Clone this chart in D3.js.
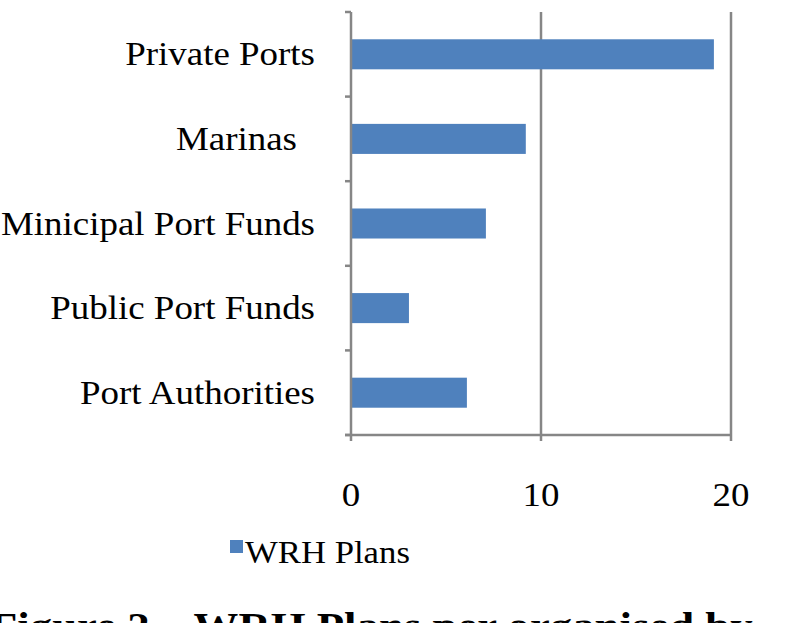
<!DOCTYPE html><html><head><meta charset="utf-8"><script src="https://d3js.org/d3.v7.min.js"></script>
<style>body{margin:0;background:#fff}</style></head><body><svg id="c" width="791" height="623"></svg>
<script>
const categories=["Private Ports","Marinas","Minicipal Port Funds","Public Port Funds","Port Authorities"];
const values=[19.1,9.2,7.1,3.05,6.1];
const ticks=[0,10,20];
const svg=d3.select("#c");
const F="'Liberation Serif', serif";
const x=d3.scaleLinear().domain([0,20]).range([351,731]);
const y=d3.scaleBand().domain(categories).range([12,435]).paddingInner(0.645).paddingOuter(0.3225);
const yb=d3.scaleBand().domain(categories).range([12,435]);
svg.selectAll(".g").data(ticks.slice(1)).join("line").attr("x1",d=>x(d)).attr("x2",d=>x(d)).attr("y1",12).attr("y2",441).attr("stroke","#868686").attr("stroke-width",2.5);
svg.selectAll(".b").data(values).join("rect").attr("x",x(0)).attr("y",(d,i)=>y(categories[i])).attr("width",d=>x(d)-x(0)).attr("height",y.bandwidth()).attr("fill","#4f81bd");
svg.append("line").attr("x1",351).attr("x2",351).attr("y1",12).attr("y2",441).attr("stroke","#868686").attr("stroke-width",2.5);
svg.append("line").attr("x1",345).attr("x2",732).attr("y1",435).attr("y2",435).attr("stroke","#868686").attr("stroke-width",2.5);
const bounds=[12].concat(categories.map(c=>yb(c)+yb.bandwidth()));
svg.selectAll(".yt").data(bounds).join("line").attr("x1",345).attr("x2",351).attr("y1",d=>d).attr("y2",d=>d).attr("stroke","#868686").attr("stroke-width",2.5);
function txt(xp,yp,s,size,anchor,bold){
  svg.append("g").attr("transform",`translate(${xp},${yp}) scale(1.12,1)`).append("text")
   .attr("text-anchor",anchor).attr("font-family",F).attr("font-size",size).attr("font-weight",bold?"bold":null).text(s);
}
ticks.forEach(d=>txt(x(d),506,d,33,"middle"));
categories.forEach((d,i)=>txt(i==1?297:315,yb(d)+yb.bandwidth()/2+11,d,33,"end"));
svg.append("rect").attr("x",230).attr("y",540).attr("width",13).attr("height",13).attr("fill","#4f81bd");
txt(245,563,"WRH Plans",31,"start");
txt(-10,640,"Figure 2 – WRH Plans per organised by",40,"start",true);
</script></body></html>
